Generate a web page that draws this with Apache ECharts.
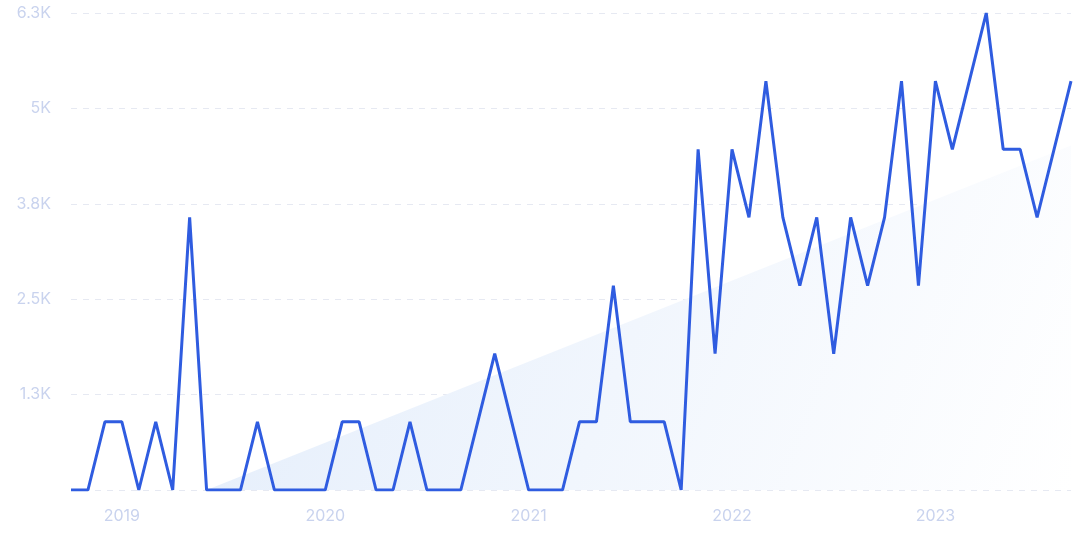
<!DOCTYPE html>
<html><head><meta charset="utf-8">
<script src="https://cdn.jsdelivr.net/npm/echarts@6/dist/echarts.min.js"></script>
<style>html,body{margin:0;padding:0;background:#fff}#c{width:1075px;height:537px}</style>
</head><body><div id="c"></div>
<script>
const months = [];
for (let y = 2018; y <= 2023; y++) for (let m = 1; m <= 12; m++) {
  if ((y === 2018 && m < 10) || (y === 2023 && m > 9)) continue;
  months.push(y + '-' + String(m).padStart(2, '0'));
}
const values = [0,0,900,900,0,900,0,3600,0,0,0,900,0,0,0,0,900,900,0,0,900,0,0,0,900,1800,900,0,0,0,900,900,2700,900,900,900,0,4500,1800,4500,3600,5400,3600,2700,3600,1800,3600,2700,3600,5400,2700,5400,4500,5400,6300,4500,4500,3600,4500,5400];
const trend = months.map(() => null);
trend[8] = 0; trend[59] = 4550;
const yTicks = ['', '1.3K', '2.5K', '3.8K', '5K', '6.3K'];

const chart = echarts.init(document.getElementById('c'));
chart.setOption({
  animation: false,
  grid: {left: 71, right: 4, top: 13, bottom: 47},
  xAxis: {
    type: 'category', data: months, boundaryGap: false,
    axisLine: {show: false}, axisTick: {show: false},
    axisLabel: {
      color: '#c9d3ee', fontSize: 16, fontFamily: 'Inter', margin: 18,
      interval: (i, v) => v.endsWith('-01'),
      formatter: v => v.slice(0, 4)
    }
  },
  yAxis: {
    type: 'value', min: 0, max: 6300, interval: 1260,
    axisLabel: {color: '#c9d3ee', fontSize: 16, fontFamily: 'Inter', margin: 20,
      formatter: (v) => yTicks[Math.round(v / 1260)]},
    splitLine: {lineStyle: {color: '#e6e9f2', type: [6, 6]}}
  },
  series: [
    {type: 'line', data: trend, connectNulls: true, symbol: 'none', lineStyle: {width: 0},
     areaStyle: {opacity: 1, color: new echarts.graphic.LinearGradient(0, 0, 1, 1, [
       {offset: 0, color: '#e3edfb'}, {offset: 1, color: '#ffffff'}])}, z: 1},
    {type: 'line', data: values, symbol: 'none', lineStyle: {color: '#2f5ce0', width: 3}, z: 2}
  ]
});
</script></body></html>
